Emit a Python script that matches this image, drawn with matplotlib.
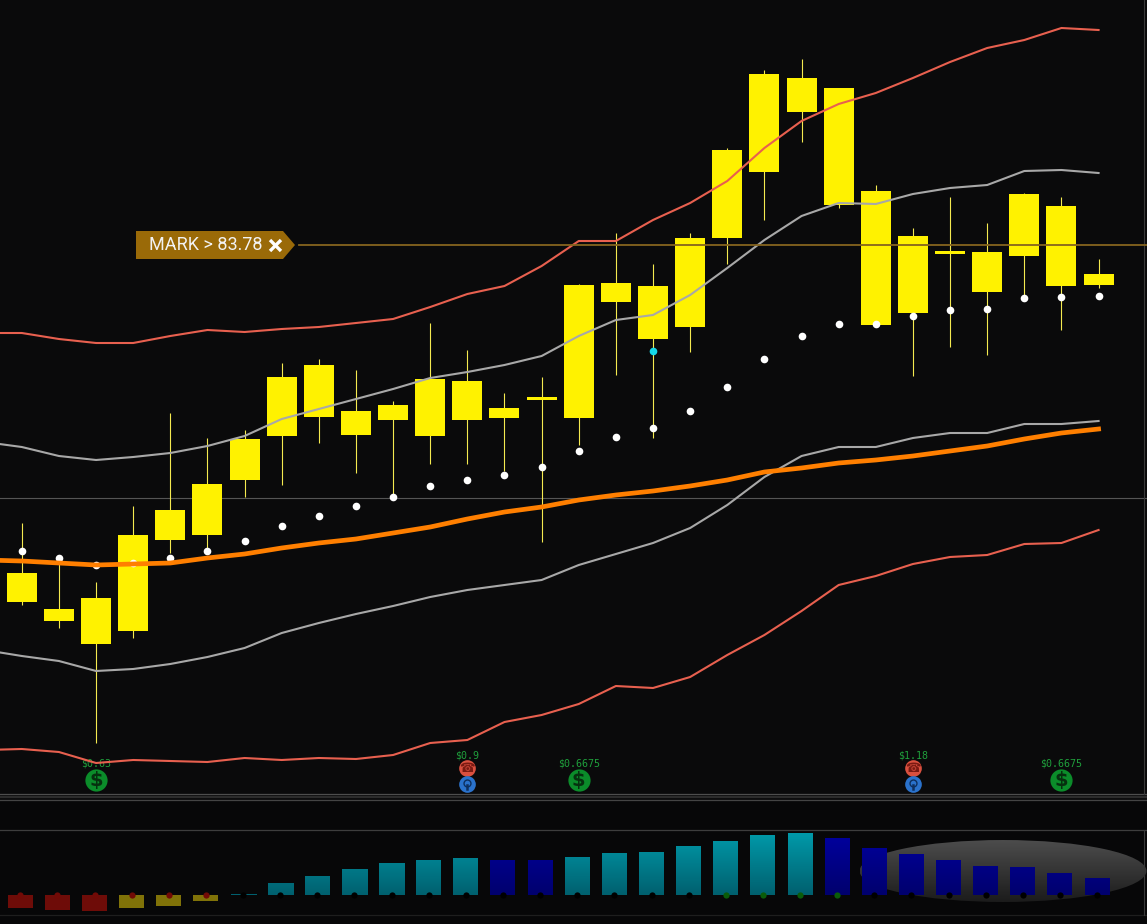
import matplotlib
matplotlib.use("Agg")
import matplotlib.pyplot as plt
from matplotlib.colors import LinearSegmentedColormap
from matplotlib.patches import Ellipse, Polygon
import numpy as np

# candles in chart height units (0 at top of price panel)
body_top = [573, 609, 598, 535, 510, 484, 439, 377, 365, 411, 405, 379, 381, 408, 397,
            285, 283, 286, 238, 150, 74, 78, 88, 191, 236, 251, 252, 194, 206, 274]
body_bot = [602, 621, 644, 631, 540, 535, 480, 436, 417, 435, 420, 436, 420, 418, 400,
            418, 302, 339, 327, 238, 172, 112, 205, 325, 313, 254, 292, 256, 286, 285]
wick_top = [523, 558, 582, 506, 413, 438, 430, 363, 359, 370, 401, 323, 350, 393, 377,
            284, 233, 264, 233, 148, 70, 59, 88, 185, 228, 197, 223, 193, 197, 259]
wick_bot = [605, 628, 743, 638, 553, 550, 497, 485, 443, 473, 495, 464, 464, 471, 542,
            445, 375, 438, 352, 264, 220, 142, 208, 325, 376, 347, 355, 296, 330, 288]
dots = [551, 558, 565, 563, 558, 551, 541, 526, 516, 506, 497, 486, 480, 475, 467,
        451, 437, 428, 411, 387, 359, 336, 324, 324, 316, 310, 309, 298, 297, 296]
CYAN_DOT = (17, 351)

# bands start one bar before the first candle
upper_red = [333, 333, 339, 343, 343, 336, 330, 332, 329, 327, 323, 319, 307, 294, 286, 266,
             241, 241, 220, 203, 181, 148, 121, 104, 93, 78, 62, 48, 40, 28, 30]
upper_grey = [442, 447, 456, 460, 457, 453, 446, 436, 419, 409, 399, 389, 378, 372, 365, 356,
              336, 320, 315, 295, 268, 240, 216, 203, 204, 194, 188, 185, 171, 170, 173]
mid_orange = [560, 561, 563, 565, 564, 563, 558, 554, 548, 543, 539, 533, 527, 519, 512, 507,
              500, 495, 491, 486, 480, 472, 468, 463, 460, 456, 451, 446, 439, 433, 429]
lower_grey = [650, 656, 661, 671, 669, 664, 657, 648, 633, 623, 614, 606, 597, 590, 585, 580,
              565, 554, 543, 528, 505, 477, 456, 447, 447, 438, 433, 433, 424, 424, 421]
lower_red = [750, 749, 752, 763, 760, 761, 762, 758, 760, 758, 759, 755, 743, 740, 722, 715,
             704, 686, 688, 677, 655, 635, 611, 585, 576, 564, 557, 555, 544, 543, 530]

hist = [-13, -15, -16, -13, -11, -6, 1, 12, 19, 26, 32, 35, 37, 35, 35,
        38, 42, 43, 49, 54, 60, 62, 57, 47, 41, 35, 29, 28, 22, 17]
hist_kind = ["r", "r", "r", "y", "y", "y", "c", "c", "c", "c", "c", "c", "c", "b", "b",
             "c", "c", "c", "c", "c", "c", "c", "b", "b", "b", "b", "b", "b", "b", "b"]
hist_dot = ["r", "r", "r", "r", "r", "r", "k", "k", "k", "k", "k", "k", "k", "k", "k",
            "k", "k", "k", "k", "g", "g", "g", "g", "k", "k", "k", "k", "k", "k", "k"]

MARK_LEVEL = 245
MARK_TEXT = "MARK > 83.78"
dividends = [(2, "$0.63"), (15, "$0.6675"), (28, "$0.6675")]
calls = [(12, "$0.9"), (24, "$1.18")]

BG = "#0a0a0b"
YELLOW = "#fff200"
W, H = 1147, 924
STEP = 37.13
ORIGIN = 21.8
XLIM = (-ORIGIN / STEP, (W - ORIGIN) / STEP)

fig = plt.figure(figsize=(W / 100, H / 100), dpi=100, facecolor=BG)


def panel(top, bottom):
    a = fig.add_axes([0, 1 - bottom / H, 1, (bottom - top) / H], facecolor="none")
    a.set_xlim(*XLIM)
    a.axis("off")
    return a


# frame lines behind everything
bg = fig.add_axes([0, 0, 1, 1], facecolor=BG)
bg.set_xlim(0, W)
bg.set_ylim(H, 0)
bg.axis("off")
bg.axhspan(800, H, color="#070708", lw=0)
for y, c, lw in [(794, "#4d4d4d", 0.9), (797, "#2c2c2c", 1.6), (800, "#444444", 0.9),
                 (830, "#3d3d3d", 0.9), (915, "#1e1e1e", 0.9), (498, "#555555", 0.8)]:
    bg.axhline(y, color=c, lw=lw)
bg.plot([1144, 1144], [0, 794], color="#3a3a3a", lw=0.8)
bg.plot([1144, 1144], [830, 915], color="#3a3a3a", lw=0.8)

# price panel
ax = panel(0, 794)
ax.set_ylim(794, 0)
x = np.arange(30)
xb = np.arange(-1, 30)

ax.vlines(x, wick_top, wick_bot, color="#f5ea50", lw=0.8, zorder=2)
ax.bar(x, np.array(body_bot) - np.array(body_top), bottom=body_top, width=30 / STEP,
       color=YELLOW, zorder=3)
ax.plot(xb, upper_red, color="#e8604f", lw=1.5, zorder=4)
ax.plot(xb, lower_red, color="#e8604f", lw=1.5, zorder=4)
ax.plot(xb, upper_grey, color="#a8a8a8", lw=1.5, zorder=4)
ax.plot(xb, lower_grey, color="#a8a8a8", lw=1.5, zorder=4)
ax.plot(x, dots, "o", color="white", ms=5.5, mew=0, zorder=5)
ax.plot(*CYAN_DOT, "o", color="#14d8e8", ms=5.5, mew=0, zorder=5)
ax.plot(xb, mid_orange, color="#ff7f00", lw=3.4, zorder=6)

# mark line and badge
px = lambda v: (v - ORIGIN) / STEP
ax.plot([px(299), px(1147)], [MARK_LEVEL, MARK_LEVEL], color="#85641e", lw=1.3, zorder=6)
ax.add_patch(Polygon([(px(136), 231), (px(283), 231), (px(295), 245), (px(283), 259), (px(136), 259)],
                     closed=True, color="#9a6a08", lw=0, zorder=8))
ax.text(px(149), 245.5, MARK_TEXT, color="#f2f2f2", fontsize=13, family="Roboto",
        ha="left", va="center", zorder=9)
ax.plot([px(270), px(281)], [240, 251], color="white", lw=2.4, solid_capstyle="butt", zorder=9)
ax.plot([px(270), px(281)], [251, 240], color="white", lw=2.4, solid_capstyle="butt", zorder=9)

# event icons
for i, label in dividends:
    ax.plot(i, 780, "o", color="#0b8c2a", ms=16, mew=0, zorder=7)
    ax.text(i, 780.5, "$", color="#06300f", fontsize=14, fontweight="bold", ha="center", va="center",
            family="DejaVu Sans", zorder=8)
    ax.text(i, 764, label, color="#1fa03c", fontsize=7.2, family="DejaVu Sans Mono",
            ha="center", va="center", zorder=3)
for i, label in calls:
    ax.plot(i, 768, "o", color="#d9503f", ms=12, mew=0, zorder=7)
    ax.text(i, 768, "\u260e", color="#7a1a12", fontsize=9, ha="center", va="center",
            family="DejaVu Sans", zorder=8)
    ax.plot(i, 784, "o", color="#2a72cc", ms=12, mew=0, zorder=7)
    ax.plot(i, 782.5, "o", mfc="none", mec="#0d3060", ms=5, mew=1, zorder=8)
    ax.plot([i, i], [785, 789], color="#0d3060", lw=1.8, zorder=8)
    ax.text(i, 755, label, color="#1fa03c", fontsize=7.2, family="DejaVu Sans Mono",
            ha="center", va="center", zorder=8)

# histogram panel
ax2 = panel(830, 915)
ax2.set_ylim(-20, 65)
ell = Ellipse((px(1003), 24), 287 / STEP, 62, facecolor="none", edgecolor="none")
ax2.add_patch(ell)
shade = np.linspace(0, 1, 64).reshape(-1, 1)
im = ax2.imshow(shade, extent=(px(860), px(1147), -7, 55), origin="lower", aspect="auto",
                cmap=LinearSegmentedColormap.from_list("sh", ["#1c1c1c", "#4c4c4c"]), zorder=1)
im.set_clip_path(ell)

KIND_MAPS = {
    "c": ["#004a58", "#0098a8"],
    "b": ["#00005a", "#00009e"],
}
FLAT = {"r": "#6e0c08", "y": "#807208"}
DOT = {"r": "#720a06", "k": "#000000", "g": "#0a5c0a"}
bw = 25 / STEP
for i, (v, k, d) in enumerate(zip(hist, hist_kind, hist_dot)):
    xc = i - 1.5 / STEP
    if k in FLAT:
        ax2.bar(xc, v, width=bw, color=FLAT[k], zorder=3)
    else:
        grad = np.linspace(0, v, 32).reshape(-1, 1)
        ax2.imshow(grad, extent=(xc - bw / 2, xc + bw / 2, 0, v), origin="lower", aspect="auto",
                   cmap=LinearSegmentedColormap.from_list(k, KIND_MAPS[k]),
                   vmin=-25, vmax=62, zorder=3)
    ax2.plot(xc, 0, "o", color=DOT[d], ms=4.5, mew=0, zorder=4)
ax2.set_xlim(*XLIM)
ax2.set_ylim(-20, 65)

fig.savefig("out.png", dpi=100, facecolor=BG)
